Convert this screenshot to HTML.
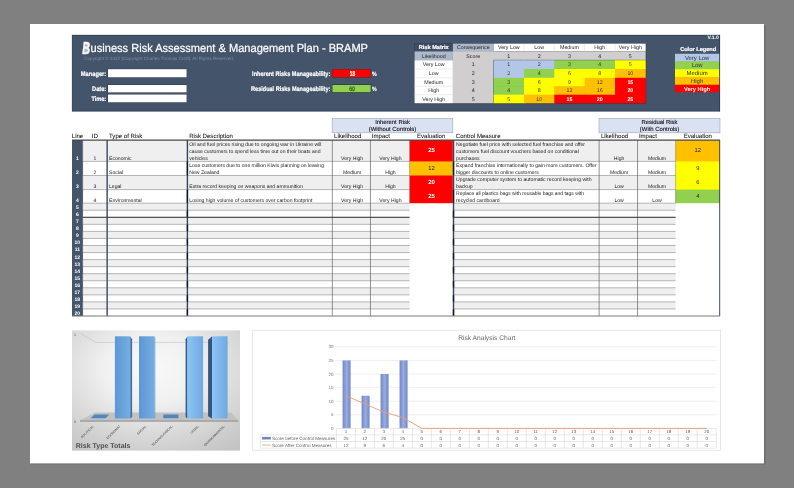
<!DOCTYPE html>
<html lang="en"><head><meta charset="utf-8"><title>Business Risk Assessment &amp; Management Plan - BRAMP</title>
<style>html,body{margin:0;padding:0}
body{width:794px;height:488px;background:#808080;overflow:hidden}
svg{display:block;position:absolute;left:0;top:0;font-family:"Liberation Sans",sans-serif}
text{white-space:pre}</style></head><body>
<svg width="794" height="488" viewBox="0 0 794 488" text-rendering="geometricPrecision">
<g id="sheet">
<rect x="31.00" y="25.00" width="734.50" height="439.50" fill="#5e5e5e" opacity="0.55"/>
<rect x="30.00" y="24.00" width="734.00" height="439.40" fill="#ffffff"/>
<rect x="72.00" y="35.00" width="648.00" height="76.30" fill="#44546A"/>
<line x1="72.00" y1="35.30" x2="720.00" y2="35.30" stroke="#323f55" stroke-width="0.8"/>
<line x1="719.60" y1="35.00" x2="719.60" y2="111.30" stroke="#2c3a52" stroke-width="0.9"/>
<line x1="72.30" y1="35.00" x2="72.30" y2="111.30" stroke="#36445c" stroke-width="0.6"/>
<line x1="72.00" y1="111.00" x2="720.00" y2="111.00" stroke="#323f55" stroke-width="0.8"/>
<polygon points="85.6,43.2 88.6,43.2 87.0,52.6 84.0,52.6" fill="#b4bac5"/>
<rect x="107.60" y="68.80" width="79.40" height="8.90" fill="#2a3446"/>
<rect x="108.00" y="69.20" width="78.60" height="8.10" fill="#ffffff"/>
<rect x="107.60" y="84.60" width="79.40" height="8.20" fill="#2a3446"/>
<rect x="108.00" y="85.00" width="78.60" height="7.40" fill="#ffffff"/>
<rect x="107.60" y="94.10" width="79.40" height="8.60" fill="#2a3446"/>
<rect x="108.00" y="94.50" width="78.60" height="7.80" fill="#ffffff"/>
<rect x="332.00" y="69.10" width="39.10" height="8.40" fill="#5a1a22"/>
<rect x="332.40" y="69.50" width="38.30" height="7.60" fill="#FF0000"/>
<rect x="332.00" y="84.60" width="39.10" height="8.00" fill="#1f2f22"/>
<rect x="332.40" y="85.00" width="38.30" height="7.20" fill="#92D050"/>
<rect x="414.00" y="43.30" width="232.20" height="60.50" fill="#2a3446"/>
<rect x="414.50" y="43.60" width="38.40" height="8.00" fill="#3f4e66"/>
<rect x="452.90" y="43.60" width="40.70" height="7.80" fill="#ADB9CA"/>
<rect x="493.60" y="43.60" width="152.10" height="7.80" fill="#ffffff"/>
<line x1="524.00" y1="44.10" x2="524.00" y2="51.40" stroke="#d8d8d8" stroke-width="0.5"/>
<line x1="554.30" y1="44.10" x2="554.30" y2="51.40" stroke="#d8d8d8" stroke-width="0.5"/>
<line x1="584.60" y1="44.10" x2="584.60" y2="51.40" stroke="#d8d8d8" stroke-width="0.5"/>
<line x1="615.00" y1="44.10" x2="615.00" y2="51.40" stroke="#d8d8d8" stroke-width="0.5"/>
<rect x="414.50" y="51.40" width="38.40" height="8.80" fill="#ADB9CA"/>
<rect x="452.90" y="51.40" width="192.80" height="8.80" fill="#D0CECE"/>
<rect x="452.90" y="51.40" width="40.70" height="51.90" fill="#D0CECE"/>
<rect x="414.50" y="60.20" width="38.40" height="43.10" fill="#ffffff"/>
<rect x="493.45" y="59.85" width="152.25" height="43.45" fill="#3a4a66"/>
<rect x="493.60" y="60.20" width="31.00" height="9.40" fill="#B4C6E7"/>
<rect x="524.00" y="60.20" width="30.90" height="9.40" fill="#B4C6E7"/>
<rect x="554.30" y="60.20" width="30.90" height="9.40" fill="#92D050"/>
<rect x="584.60" y="60.20" width="31.00" height="9.40" fill="#92D050"/>
<rect x="615.00" y="60.20" width="30.70" height="9.40" fill="#FFFF00"/>
<line x1="414.50" y1="69.00" x2="452.90" y2="69.00" stroke="#d8d8d8" stroke-width="0.5"/>
<rect x="493.60" y="69.00" width="31.00" height="9.40" fill="#B4C6E7"/>
<rect x="524.00" y="69.00" width="30.90" height="9.40" fill="#92D050"/>
<rect x="554.30" y="69.00" width="30.90" height="9.40" fill="#FFFF00"/>
<rect x="584.60" y="69.00" width="31.00" height="9.40" fill="#FFFF00"/>
<rect x="615.00" y="69.00" width="30.70" height="9.40" fill="#FFC000"/>
<line x1="414.50" y1="77.80" x2="452.90" y2="77.80" stroke="#d8d8d8" stroke-width="0.5"/>
<rect x="493.60" y="77.80" width="31.00" height="9.10" fill="#92D050"/>
<rect x="524.00" y="77.80" width="30.90" height="9.10" fill="#FFFF00"/>
<rect x="554.30" y="77.80" width="30.90" height="9.10" fill="#FFFF00"/>
<rect x="584.60" y="77.80" width="31.00" height="9.10" fill="#FFC000"/>
<rect x="615.00" y="77.80" width="30.70" height="9.10" fill="#FF0000"/>
<line x1="414.50" y1="86.30" x2="452.90" y2="86.30" stroke="#d8d8d8" stroke-width="0.5"/>
<rect x="493.60" y="86.30" width="31.00" height="9.00" fill="#92D050"/>
<rect x="524.00" y="86.30" width="30.90" height="9.00" fill="#FFFF00"/>
<rect x="554.30" y="86.30" width="30.90" height="9.00" fill="#FFC000"/>
<rect x="584.60" y="86.30" width="31.00" height="9.00" fill="#FFC000"/>
<rect x="615.00" y="86.30" width="30.70" height="9.00" fill="#FF0000"/>
<line x1="414.50" y1="94.70" x2="452.90" y2="94.70" stroke="#d8d8d8" stroke-width="0.5"/>
<rect x="493.60" y="94.70" width="31.00" height="8.60" fill="#FFFF00"/>
<rect x="524.00" y="94.70" width="30.90" height="8.60" fill="#FFC000"/>
<rect x="554.30" y="94.70" width="30.90" height="8.60" fill="#FF0000"/>
<rect x="584.60" y="94.70" width="31.00" height="8.60" fill="#FF0000"/>
<rect x="615.00" y="94.70" width="30.70" height="8.60" fill="#FF0000"/>
<rect x="675.00" y="53.80" width="44.20" height="8.10" fill="#B4C6E7"/>
<rect x="675.00" y="61.30" width="44.20" height="8.50" fill="#92D050"/>
<rect x="675.00" y="69.20" width="44.20" height="8.30" fill="#FFFF00"/>
<rect x="675.00" y="76.90" width="44.20" height="8.40" fill="#FFC000"/>
<rect x="675.00" y="84.70" width="44.20" height="7.60" fill="#FF0000"/>
<rect x="332.20" y="118.60" width="120.60" height="14.20" fill="#D9E1F2" stroke="#9aa3b8" stroke-width="0.6"/>
<rect x="599.00" y="118.60" width="121.00" height="14.20" fill="#D9E1F2" stroke="#9aa3b8" stroke-width="0.6"/>
<rect x="72.00" y="140.00" width="10.60" height="176.00" fill="#44546A"/>
<rect x="82.60" y="140.00" width="327.00" height="21.40" fill="#EFEFEF"/>
<rect x="452.80" y="140.00" width="222.80" height="21.40" fill="#EFEFEF"/>
<rect x="409.60" y="140.00" width="43.20" height="22.00" fill="#FF0000"/>
<rect x="675.60" y="140.00" width="44.40" height="22.00" fill="#FFC000"/>
<rect x="409.60" y="161.40" width="43.20" height="14.70" fill="#FFC000"/>
<rect x="675.60" y="161.40" width="44.40" height="14.70" fill="#FFFF00"/>
<rect x="82.60" y="175.50" width="327.00" height="14.10" fill="#EFEFEF"/>
<rect x="452.80" y="175.50" width="222.80" height="14.10" fill="#EFEFEF"/>
<rect x="409.60" y="175.50" width="43.20" height="14.70" fill="#FF0000"/>
<rect x="675.60" y="175.50" width="44.40" height="14.70" fill="#FFFF00"/>
<rect x="409.60" y="189.60" width="43.20" height="13.60" fill="#FF0000"/>
<rect x="675.60" y="189.60" width="44.40" height="13.60" fill="#92D050"/>
<rect x="82.60" y="203.20" width="327.00" height="7.05" fill="#EFEFEF"/>
<rect x="452.80" y="203.20" width="222.80" height="7.05" fill="#EFEFEF"/>
<rect x="82.60" y="217.30" width="327.00" height="7.05" fill="#EFEFEF"/>
<rect x="452.80" y="217.30" width="222.80" height="7.05" fill="#EFEFEF"/>
<rect x="82.60" y="231.40" width="327.00" height="7.05" fill="#EFEFEF"/>
<rect x="452.80" y="231.40" width="222.80" height="7.05" fill="#EFEFEF"/>
<rect x="82.60" y="245.50" width="327.00" height="7.05" fill="#EFEFEF"/>
<rect x="452.80" y="245.50" width="222.80" height="7.05" fill="#EFEFEF"/>
<rect x="82.60" y="259.60" width="327.00" height="7.05" fill="#EFEFEF"/>
<rect x="452.80" y="259.60" width="222.80" height="7.05" fill="#EFEFEF"/>
<rect x="82.60" y="273.70" width="327.00" height="7.05" fill="#EFEFEF"/>
<rect x="452.80" y="273.70" width="222.80" height="7.05" fill="#EFEFEF"/>
<rect x="82.60" y="287.80" width="327.00" height="7.05" fill="#EFEFEF"/>
<rect x="452.80" y="287.80" width="222.80" height="7.05" fill="#EFEFEF"/>
<rect x="82.60" y="301.90" width="327.00" height="7.05" fill="#EFEFEF"/>
<rect x="452.80" y="301.90" width="222.80" height="7.05" fill="#EFEFEF"/>
<line x1="82.60" y1="161.40" x2="409.60" y2="161.40" stroke="#929292" stroke-width="0.65"/>
<line x1="452.80" y1="161.40" x2="675.60" y2="161.40" stroke="#929292" stroke-width="0.65"/>
<line x1="82.60" y1="175.50" x2="409.60" y2="175.50" stroke="#929292" stroke-width="0.65"/>
<line x1="452.80" y1="175.50" x2="675.60" y2="175.50" stroke="#929292" stroke-width="0.65"/>
<line x1="82.60" y1="189.60" x2="409.60" y2="189.60" stroke="#929292" stroke-width="0.65"/>
<line x1="452.80" y1="189.60" x2="675.60" y2="189.60" stroke="#929292" stroke-width="0.65"/>
<line x1="82.60" y1="203.20" x2="409.60" y2="203.20" stroke="#929292" stroke-width="0.65"/>
<line x1="452.80" y1="203.20" x2="675.60" y2="203.20" stroke="#929292" stroke-width="0.65"/>
<line x1="82.60" y1="210.25" x2="409.60" y2="210.25" stroke="#929292" stroke-width="0.65"/>
<line x1="452.80" y1="210.25" x2="675.60" y2="210.25" stroke="#929292" stroke-width="0.65"/>
<line x1="82.60" y1="217.30" x2="409.60" y2="217.30" stroke="#929292" stroke-width="0.65"/>
<line x1="452.80" y1="217.30" x2="675.60" y2="217.30" stroke="#929292" stroke-width="0.65"/>
<line x1="82.60" y1="224.35" x2="409.60" y2="224.35" stroke="#929292" stroke-width="0.65"/>
<line x1="452.80" y1="224.35" x2="675.60" y2="224.35" stroke="#929292" stroke-width="0.65"/>
<line x1="82.60" y1="231.40" x2="409.60" y2="231.40" stroke="#929292" stroke-width="0.65"/>
<line x1="452.80" y1="231.40" x2="675.60" y2="231.40" stroke="#929292" stroke-width="0.65"/>
<line x1="82.60" y1="238.45" x2="409.60" y2="238.45" stroke="#929292" stroke-width="0.65"/>
<line x1="452.80" y1="238.45" x2="675.60" y2="238.45" stroke="#929292" stroke-width="0.65"/>
<line x1="82.60" y1="245.50" x2="409.60" y2="245.50" stroke="#929292" stroke-width="0.65"/>
<line x1="452.80" y1="245.50" x2="675.60" y2="245.50" stroke="#929292" stroke-width="0.65"/>
<line x1="82.60" y1="252.55" x2="409.60" y2="252.55" stroke="#929292" stroke-width="0.65"/>
<line x1="452.80" y1="252.55" x2="675.60" y2="252.55" stroke="#929292" stroke-width="0.65"/>
<line x1="82.60" y1="259.60" x2="409.60" y2="259.60" stroke="#929292" stroke-width="0.65"/>
<line x1="452.80" y1="259.60" x2="675.60" y2="259.60" stroke="#929292" stroke-width="0.65"/>
<line x1="82.60" y1="266.65" x2="409.60" y2="266.65" stroke="#929292" stroke-width="0.65"/>
<line x1="452.80" y1="266.65" x2="675.60" y2="266.65" stroke="#929292" stroke-width="0.65"/>
<line x1="82.60" y1="273.70" x2="409.60" y2="273.70" stroke="#929292" stroke-width="0.65"/>
<line x1="452.80" y1="273.70" x2="675.60" y2="273.70" stroke="#929292" stroke-width="0.65"/>
<line x1="82.60" y1="280.75" x2="409.60" y2="280.75" stroke="#929292" stroke-width="0.65"/>
<line x1="452.80" y1="280.75" x2="675.60" y2="280.75" stroke="#929292" stroke-width="0.65"/>
<line x1="82.60" y1="287.80" x2="409.60" y2="287.80" stroke="#929292" stroke-width="0.65"/>
<line x1="452.80" y1="287.80" x2="675.60" y2="287.80" stroke="#929292" stroke-width="0.65"/>
<line x1="82.60" y1="294.85" x2="409.60" y2="294.85" stroke="#929292" stroke-width="0.65"/>
<line x1="452.80" y1="294.85" x2="675.60" y2="294.85" stroke="#929292" stroke-width="0.65"/>
<line x1="82.60" y1="301.90" x2="409.60" y2="301.90" stroke="#929292" stroke-width="0.65"/>
<line x1="452.80" y1="301.90" x2="675.60" y2="301.90" stroke="#929292" stroke-width="0.65"/>
<line x1="82.60" y1="308.95" x2="409.60" y2="308.95" stroke="#929292" stroke-width="0.65"/>
<line x1="452.80" y1="308.95" x2="675.60" y2="308.95" stroke="#929292" stroke-width="0.65"/>
<line x1="332.35" y1="140.00" x2="332.35" y2="316.00" stroke="#5a5a5a" stroke-width="0.65"/>
<line x1="370.45" y1="140.00" x2="370.45" y2="316.00" stroke="#5a5a5a" stroke-width="0.65"/>
<line x1="599.15" y1="140.00" x2="599.15" y2="316.00" stroke="#5a5a5a" stroke-width="0.65"/>
<line x1="637.55" y1="140.00" x2="637.55" y2="316.00" stroke="#5a5a5a" stroke-width="0.65"/>
<line x1="409.60" y1="140.00" x2="409.60" y2="203.20" stroke="#777" stroke-width="0.5"/>
<line x1="675.60" y1="140.00" x2="675.60" y2="203.20" stroke="#777" stroke-width="0.5"/>
<line x1="82.60" y1="140.00" x2="82.60" y2="316.00" stroke="#2d3a50" stroke-width="0.6"/>
<line x1="107.15" y1="140.00" x2="107.15" y2="316.00" stroke="#4a526a" stroke-width="1.5"/>
<line x1="187.40" y1="140.00" x2="187.40" y2="316.00" stroke="#3a4258" stroke-width="1.4"/>
<line x1="187.40" y1="161.80" x2="187.40" y2="175.10" stroke="#10142a" stroke-width="1.4"/>
<line x1="187.40" y1="190.00" x2="187.40" y2="202.80" stroke="#10142a" stroke-width="1.4"/>
<line x1="187.40" y1="210.65" x2="187.40" y2="216.90" stroke="#10142a" stroke-width="1.4"/>
<line x1="187.40" y1="224.75" x2="187.40" y2="231.00" stroke="#10142a" stroke-width="1.4"/>
<line x1="187.40" y1="238.85" x2="187.40" y2="245.10" stroke="#10142a" stroke-width="1.4"/>
<line x1="187.40" y1="252.95" x2="187.40" y2="259.20" stroke="#10142a" stroke-width="1.4"/>
<line x1="187.40" y1="267.05" x2="187.40" y2="273.30" stroke="#10142a" stroke-width="1.4"/>
<line x1="187.40" y1="281.15" x2="187.40" y2="287.40" stroke="#10142a" stroke-width="1.4"/>
<line x1="187.40" y1="295.25" x2="187.40" y2="301.50" stroke="#10142a" stroke-width="1.4"/>
<line x1="187.40" y1="309.35" x2="187.40" y2="315.60" stroke="#10142a" stroke-width="1.4"/>
<line x1="453.50" y1="140.00" x2="453.50" y2="316.00" stroke="#3a4258" stroke-width="1.4"/>
<line x1="453.50" y1="161.80" x2="453.50" y2="175.10" stroke="#10142a" stroke-width="1.4"/>
<line x1="453.50" y1="190.00" x2="453.50" y2="202.80" stroke="#10142a" stroke-width="1.4"/>
<line x1="453.50" y1="210.65" x2="453.50" y2="216.90" stroke="#10142a" stroke-width="1.4"/>
<line x1="453.50" y1="224.75" x2="453.50" y2="231.00" stroke="#10142a" stroke-width="1.4"/>
<line x1="453.50" y1="238.85" x2="453.50" y2="245.10" stroke="#10142a" stroke-width="1.4"/>
<line x1="453.50" y1="252.95" x2="453.50" y2="259.20" stroke="#10142a" stroke-width="1.4"/>
<line x1="453.50" y1="267.05" x2="453.50" y2="273.30" stroke="#10142a" stroke-width="1.4"/>
<line x1="453.50" y1="281.15" x2="453.50" y2="287.40" stroke="#10142a" stroke-width="1.4"/>
<line x1="453.50" y1="295.25" x2="453.50" y2="301.50" stroke="#10142a" stroke-width="1.4"/>
<line x1="453.50" y1="309.35" x2="453.50" y2="315.60" stroke="#10142a" stroke-width="1.4"/>
<line x1="719.70" y1="140.00" x2="719.70" y2="316.00" stroke="#2b3550" stroke-width="0.9"/>
<line x1="82.60" y1="217.30" x2="409.60" y2="217.30" stroke="#2e2e2e" stroke-width="0.9"/>
<line x1="452.80" y1="217.30" x2="675.60" y2="217.30" stroke="#2e2e2e" stroke-width="0.9"/>
<line x1="72.00" y1="140.05" x2="720.00" y2="140.05" stroke="#4a4a4a" stroke-width="1.3"/>
<line x1="72.00" y1="316.00" x2="720.00" y2="316.00" stroke="#777" stroke-width="1.0"/>
</g>
<g id="labels">
<text x="82.90" y="53.90" font-size="17.4" font-weight="bold" fill="#9aa1ae" font-style="italic" textLength="7.6" lengthAdjust="spacingAndGlyphs">B</text>
<text x="82.30" y="53.70" font-size="17.4" font-weight="bold" fill="#f6f6f6" font-style="italic" stroke="#f0f0f0" stroke-width="0.5" textLength="7.6" lengthAdjust="spacingAndGlyphs">B</text>
<text x="90.60" y="51.90" font-size="11.7" fill="#fff" textLength="277.4" lengthAdjust="spacingAndGlyphs" stroke="#fff" stroke-width="0.22">usiness Risk Assessment &amp; Management Plan - BRAMP</text>
<text x="84.20" y="59.60" font-size="4.62" fill="#808b9d">Copyright © 2022 [Copyright Charles Thomas Croft]. All Rights Reserved.</text>
<text x="80.80" y="75.55" font-size="6.6" font-weight="bold" fill="#fff" textLength="25.4" lengthAdjust="spacingAndGlyphs" stroke="#fff" stroke-width="0.2">Manager:</text>
<text x="92.10" y="91.00" font-size="6.6" font-weight="bold" fill="#fff" textLength="14.1" lengthAdjust="spacingAndGlyphs" stroke="#fff" stroke-width="0.2">Date:</text>
<text x="91.40" y="100.70" font-size="6.6" font-weight="bold" fill="#fff" textLength="14.8" lengthAdjust="spacingAndGlyphs" stroke="#fff" stroke-width="0.2">Time:</text>
<text x="252.10" y="75.60" font-size="6.6" font-weight="bold" fill="#fff" textLength="78.2" lengthAdjust="spacingAndGlyphs" stroke="#fff" stroke-width="0.2">Inherent Risks Manageability:</text>
<text x="349.70" y="75.85" font-size="7.2" font-weight="bold" fill="#fff" stroke="#fff" stroke-width="0.2" textLength="5.5" lengthAdjust="spacingAndGlyphs">18</text>
<text x="372.10" y="75.50" font-size="6.2" font-weight="bold" fill="#fff" textLength="4.7" lengthAdjust="spacingAndGlyphs" stroke="#fff" stroke-width="0.15">%</text>
<text x="251.10" y="90.90" font-size="6.6" font-weight="bold" fill="#fff" textLength="79.2" lengthAdjust="spacingAndGlyphs" stroke="#fff" stroke-width="0.2">Residual Risks Manageability:</text>
<text x="349.20" y="90.85" font-size="6.3" fill="#2a4d14" stroke="#2a4d14" stroke-width="0.15" textLength="5.8" lengthAdjust="spacingAndGlyphs">69</text>
<text x="372.10" y="90.80" font-size="6.2" font-weight="bold" fill="#fff" textLength="4.7" lengthAdjust="spacingAndGlyphs" stroke="#fff" stroke-width="0.15">%</text>
<text x="718.80" y="38.90" font-size="5.0" text-anchor="end" font-weight="bold" fill="#fff">V.1.0</text>
<text x="433.70" y="49.49" font-size="5.6" text-anchor="middle" font-weight="bold" fill="#fff" stroke="#fff" stroke-width="0.2">Risk Matrix</text>
<text x="473.25" y="49.38" font-size="5.3" text-anchor="middle" fill="#1f1f1f">Consequence</text>
<text x="508.80" y="49.38" font-size="5.3" text-anchor="middle" fill="#1f1f1f">Very Low</text>
<text x="539.15" y="49.38" font-size="5.3" text-anchor="middle" fill="#1f1f1f">Low</text>
<text x="569.45" y="49.38" font-size="5.3" text-anchor="middle" fill="#1f1f1f">Medium</text>
<text x="599.80" y="49.38" font-size="5.3" text-anchor="middle" fill="#1f1f1f">High</text>
<text x="630.35" y="49.38" font-size="5.3" text-anchor="middle" fill="#1f1f1f">Very High</text>
<text x="433.70" y="57.68" font-size="5.3" text-anchor="middle" fill="#1f1f1f">Likelihood</text>
<text x="473.25" y="57.68" font-size="5.3" text-anchor="middle" fill="#1f1f1f">Score</text>
<text x="508.80" y="57.68" font-size="5.3" text-anchor="middle" fill="#1f1f1f">1</text>
<text x="539.15" y="57.68" font-size="5.3" text-anchor="middle" fill="#1f1f1f">2</text>
<text x="569.45" y="57.68" font-size="5.3" text-anchor="middle" fill="#1f1f1f">3</text>
<text x="599.80" y="57.68" font-size="5.3" text-anchor="middle" fill="#1f1f1f">4</text>
<text x="630.35" y="57.68" font-size="5.3" text-anchor="middle" fill="#1f1f1f">5</text>
<text x="433.70" y="66.48" font-size="5.3" text-anchor="middle" fill="#1f1f1f">Very Low</text>
<text x="473.25" y="66.48" font-size="5.3" text-anchor="middle" fill="#1f1f1f">1</text>
<text x="508.80" y="66.48" font-size="5.3" text-anchor="middle" fill="#3a3a1a">1</text>
<text x="539.15" y="66.48" font-size="5.3" text-anchor="middle" fill="#3a3a1a">2</text>
<text x="569.45" y="66.48" font-size="5.3" text-anchor="middle" fill="#3a3a1a">3</text>
<text x="599.80" y="66.48" font-size="5.3" text-anchor="middle" fill="#3a3a1a">4</text>
<text x="630.35" y="66.48" font-size="5.3" text-anchor="middle" fill="#3a3a1a">5</text>
<text x="433.70" y="75.28" font-size="5.3" text-anchor="middle" fill="#1f1f1f">Low</text>
<text x="473.25" y="75.28" font-size="5.3" text-anchor="middle" fill="#1f1f1f">2</text>
<text x="508.80" y="75.28" font-size="5.3" text-anchor="middle" fill="#3a3a1a">2</text>
<text x="539.15" y="75.28" font-size="5.3" text-anchor="middle" fill="#3a3a1a">4</text>
<text x="569.45" y="75.28" font-size="5.3" text-anchor="middle" fill="#3a3a1a">6</text>
<text x="599.80" y="75.28" font-size="5.3" text-anchor="middle" fill="#3a3a1a">8</text>
<text x="630.35" y="75.28" font-size="5.3" text-anchor="middle" fill="#3a3a1a">10</text>
<text x="433.70" y="83.93" font-size="5.3" text-anchor="middle" fill="#1f1f1f">Medium</text>
<text x="473.25" y="83.93" font-size="5.3" text-anchor="middle" fill="#1f1f1f">3</text>
<text x="508.80" y="83.93" font-size="5.3" text-anchor="middle" fill="#3a3a1a">3</text>
<text x="539.15" y="83.93" font-size="5.3" text-anchor="middle" fill="#3a3a1a">6</text>
<text x="569.45" y="83.93" font-size="5.3" text-anchor="middle" fill="#3a3a1a">9</text>
<text x="599.80" y="83.93" font-size="5.3" text-anchor="middle" fill="#3a3a1a">12</text>
<text x="630.35" y="83.93" font-size="5.3" text-anchor="middle" font-weight="bold" fill="#fff">15</text>
<text x="433.70" y="92.38" font-size="5.3" text-anchor="middle" fill="#1f1f1f">High</text>
<text x="473.25" y="92.38" font-size="5.3" text-anchor="middle" fill="#1f1f1f">4</text>
<text x="508.80" y="92.38" font-size="5.3" text-anchor="middle" fill="#3a3a1a">4</text>
<text x="539.15" y="92.38" font-size="5.3" text-anchor="middle" fill="#3a3a1a">8</text>
<text x="569.45" y="92.38" font-size="5.3" text-anchor="middle" fill="#3a3a1a">12</text>
<text x="599.80" y="92.38" font-size="5.3" text-anchor="middle" fill="#3a3a1a">16</text>
<text x="630.35" y="92.38" font-size="5.3" text-anchor="middle" font-weight="bold" fill="#fff">20</text>
<text x="433.70" y="100.88" font-size="5.3" text-anchor="middle" fill="#1f1f1f">Very High</text>
<text x="473.25" y="100.88" font-size="5.3" text-anchor="middle" fill="#1f1f1f">5</text>
<text x="508.80" y="100.88" font-size="5.3" text-anchor="middle" fill="#3a3a1a">5</text>
<text x="539.15" y="100.88" font-size="5.3" text-anchor="middle" fill="#3a3a1a">10</text>
<text x="569.45" y="100.88" font-size="5.3" text-anchor="middle" font-weight="bold" fill="#fff">15</text>
<text x="599.80" y="100.88" font-size="5.3" text-anchor="middle" font-weight="bold" fill="#fff">20</text>
<text x="630.35" y="100.88" font-size="5.3" text-anchor="middle" font-weight="bold" fill="#fff">25</text>
<text x="716.20" y="51.40" font-size="5.6" text-anchor="end" font-weight="bold" fill="#fff" stroke="#fff" stroke-width="0.2">Color Legend</text>
<text x="697.10" y="59.66" font-size="5.95" text-anchor="middle" fill="#2c3340">Very Low</text>
<text x="697.10" y="67.36" font-size="5.95" text-anchor="middle" fill="#2c3340">Low</text>
<text x="697.10" y="75.16" font-size="5.95" text-anchor="middle" fill="#2c3340">Medium</text>
<text x="697.10" y="82.91" font-size="5.95" text-anchor="middle" fill="#2c3340">High</text>
<text x="697.10" y="90.52" font-size="5.7" text-anchor="middle" font-weight="bold" fill="#fff">Very High</text>
<text x="392.50" y="124.00" font-size="5.9" text-anchor="middle" fill="#111" stroke="#111" stroke-width="0.12">Inherent Risk</text>
<text x="392.50" y="131.30" font-size="5.9" text-anchor="middle" fill="#111" stroke="#111" stroke-width="0.12">(Without Controls)</text>
<text x="659.50" y="124.00" font-size="5.9" text-anchor="middle" fill="#111" stroke="#111" stroke-width="0.12">Residual Risk</text>
<text x="659.50" y="131.30" font-size="5.9" text-anchor="middle" fill="#111" stroke="#111" stroke-width="0.12">(With Controls)</text>
<text x="71.80" y="138.25" font-size="6.05" fill="#111" stroke="#111" stroke-width="0.05">Line</text>
<text x="94.80" y="138.25" font-size="6.05" text-anchor="middle" fill="#111" stroke="#111" stroke-width="0.05">ID</text>
<text x="109.00" y="138.25" font-size="6.05" fill="#111" stroke="#111" stroke-width="0.05">Type of Risk</text>
<text x="189.20" y="138.25" font-size="6.05" fill="#111" stroke="#111" stroke-width="0.05">Risk Description</text>
<text x="334.10" y="138.25" font-size="6.05" fill="#111" stroke="#111" stroke-width="0.05">Likelihood</text>
<text x="371.80" y="138.25" font-size="6.05" fill="#111" stroke="#111" stroke-width="0.05">Impact</text>
<text x="431.20" y="138.25" font-size="6.05" text-anchor="middle" fill="#111" stroke="#111" stroke-width="0.05">Evaluation</text>
<text x="455.80" y="138.25" font-size="6.05" fill="#111" stroke="#111" stroke-width="0.05">Control Measure</text>
<text x="600.90" y="138.25" font-size="6.05" fill="#111" stroke="#111" stroke-width="0.05">Likelihood</text>
<text x="638.90" y="138.25" font-size="6.05" fill="#111" stroke="#111" stroke-width="0.05">Impact</text>
<text x="697.80" y="138.25" font-size="6.05" text-anchor="middle" fill="#111" stroke="#111" stroke-width="0.05">Evaluation</text>
<text x="77.30" y="159.90" font-size="5.0" text-anchor="middle" font-weight="bold" fill="#fff">1</text>
<text x="94.80" y="159.90" font-size="5.12" text-anchor="middle" fill="#1c1c1c">1</text>
<text x="109.00" y="159.90" font-size="5.12" fill="#1c1c1c">Economic</text>
<text x="189.30" y="145.60" font-size="5.12" fill="#1c1c1c" textLength="132.2" lengthAdjust="spacingAndGlyphs">Oil and fuel prices rising due to ongoing war in Ukraine will</text>
<text x="189.30" y="152.75" font-size="5.12" fill="#1c1c1c" textLength="131.2" lengthAdjust="spacingAndGlyphs">cause customers to spend less time out on their boats and</text>
<text x="189.30" y="159.90" font-size="5.12" fill="#1c1c1c">vehicles</text>
<text x="352.15" y="159.90" font-size="5.12" text-anchor="middle" fill="#1c1c1c">Very High</text>
<text x="390.45" y="159.90" font-size="5.12" text-anchor="middle" fill="#1c1c1c">Very High</text>
<text x="431.50" y="152.23" font-size="6.0" text-anchor="middle" font-weight="bold" fill="#fff">25</text>
<text x="456.10" y="145.60" font-size="5.12" fill="#1c1c1c" textLength="129.0" lengthAdjust="spacingAndGlyphs">Negotiate fuel price with selected fuel franchise and offer</text>
<text x="456.10" y="152.75" font-size="5.12" fill="#1c1c1c" textLength="122.7" lengthAdjust="spacingAndGlyphs">customers fuel discount vouchers based on conditional</text>
<text x="456.10" y="159.90" font-size="5.12" fill="#1c1c1c">purchases</text>
<text x="619.10" y="159.90" font-size="5.12" text-anchor="middle" fill="#1c1c1c">High</text>
<text x="657.00" y="159.90" font-size="5.12" text-anchor="middle" fill="#1c1c1c">Medium</text>
<text x="697.80" y="152.16" font-size="5.8" text-anchor="middle" fill="#1a1a1a">12</text>
<text x="77.30" y="174.10" font-size="5.0" text-anchor="middle" font-weight="bold" fill="#fff">2</text>
<text x="94.80" y="174.10" font-size="5.12" text-anchor="middle" fill="#1c1c1c">2</text>
<text x="109.00" y="174.10" font-size="5.12" fill="#1c1c1c">Social</text>
<text x="189.30" y="166.95" font-size="5.12" fill="#1c1c1c" textLength="134.7" lengthAdjust="spacingAndGlyphs">Lose customers due to one million Kiwis planning on leaving</text>
<text x="189.30" y="174.10" font-size="5.12" fill="#1c1c1c">New Zealand</text>
<text x="352.15" y="174.10" font-size="5.12" text-anchor="middle" fill="#1c1c1c">Medium</text>
<text x="390.45" y="174.10" font-size="5.12" text-anchor="middle" fill="#1c1c1c">High</text>
<text x="431.50" y="169.91" font-size="5.8" text-anchor="middle" fill="#1a1a1a">12</text>
<text x="456.10" y="166.95" font-size="5.12" fill="#1c1c1c" textLength="140.5" lengthAdjust="spacingAndGlyphs">Expand franchise internationally to gain more customers. Offer</text>
<text x="456.10" y="174.10" font-size="5.12" fill="#1c1c1c" textLength="82.6" lengthAdjust="spacingAndGlyphs">bigger discounts to online customers</text>
<text x="619.10" y="174.10" font-size="5.12" text-anchor="middle" fill="#1c1c1c">Medium</text>
<text x="657.00" y="174.10" font-size="5.12" text-anchor="middle" fill="#1c1c1c">Medium</text>
<text x="697.80" y="169.91" font-size="5.8" text-anchor="middle" fill="#1a1a1a">9</text>
<text x="77.30" y="188.45" font-size="5.0" text-anchor="middle" font-weight="bold" fill="#fff">3</text>
<text x="94.80" y="188.45" font-size="5.12" text-anchor="middle" fill="#1c1c1c">3</text>
<text x="109.00" y="188.45" font-size="5.12" fill="#1c1c1c">Legal</text>
<text x="189.30" y="188.45" font-size="5.12" fill="#1c1c1c" textLength="113.7" lengthAdjust="spacingAndGlyphs">Extra record keeping on weapons and ammunition</text>
<text x="352.15" y="188.45" font-size="5.12" text-anchor="middle" fill="#1c1c1c">Very High</text>
<text x="390.45" y="188.45" font-size="5.12" text-anchor="middle" fill="#1c1c1c">High</text>
<text x="431.50" y="184.08" font-size="6.0" text-anchor="middle" font-weight="bold" fill="#fff">20</text>
<text x="456.10" y="181.30" font-size="5.12" fill="#1c1c1c" textLength="135.5" lengthAdjust="spacingAndGlyphs">Upgrade computer system to automatic record keeping with</text>
<text x="456.10" y="188.45" font-size="5.12" fill="#1c1c1c">backup</text>
<text x="619.10" y="188.45" font-size="5.12" text-anchor="middle" fill="#1c1c1c">Low</text>
<text x="657.00" y="188.45" font-size="5.12" text-anchor="middle" fill="#1c1c1c">Medium</text>
<text x="697.80" y="184.01" font-size="5.8" text-anchor="middle" fill="#1a1a1a">6</text>
<text x="77.30" y="202.20" font-size="5.0" text-anchor="middle" font-weight="bold" fill="#fff">4</text>
<text x="94.80" y="202.20" font-size="5.12" text-anchor="middle" fill="#1c1c1c">4</text>
<text x="109.00" y="202.20" font-size="5.12" fill="#1c1c1c">Environmental</text>
<text x="189.30" y="202.20" font-size="5.12" fill="#1c1c1c" textLength="123.1" lengthAdjust="spacingAndGlyphs">Losing high volume of customers over carbon footprint</text>
<text x="352.15" y="202.20" font-size="5.12" text-anchor="middle" fill="#1c1c1c">Very High</text>
<text x="390.45" y="202.20" font-size="5.12" text-anchor="middle" fill="#1c1c1c">Very High</text>
<text x="431.50" y="197.93" font-size="6.0" text-anchor="middle" font-weight="bold" fill="#fff">25</text>
<text x="456.10" y="195.05" font-size="5.12" fill="#1c1c1c" textLength="127.9" lengthAdjust="spacingAndGlyphs">Replace all plastics bags with reusable bags and tags with</text>
<text x="456.10" y="202.20" font-size="5.12" fill="#1c1c1c">recycled cardboard</text>
<text x="619.10" y="202.20" font-size="5.12" text-anchor="middle" fill="#1c1c1c">Low</text>
<text x="657.00" y="202.20" font-size="5.12" text-anchor="middle" fill="#1c1c1c">Low</text>
<text x="697.80" y="197.86" font-size="5.8" text-anchor="middle" fill="#1a1a1a">4</text>
<text x="77.30" y="209.15" font-size="5.0" text-anchor="middle" font-weight="bold" fill="#fff">5</text>
<text x="77.30" y="216.20" font-size="5.0" text-anchor="middle" font-weight="bold" fill="#fff">6</text>
<text x="77.30" y="223.25" font-size="5.0" text-anchor="middle" font-weight="bold" fill="#fff">7</text>
<text x="77.30" y="230.30" font-size="5.0" text-anchor="middle" font-weight="bold" fill="#fff">8</text>
<text x="77.30" y="237.35" font-size="5.0" text-anchor="middle" font-weight="bold" fill="#fff">9</text>
<text x="77.30" y="244.40" font-size="5.0" text-anchor="middle" font-weight="bold" fill="#fff">10</text>
<text x="77.30" y="251.45" font-size="5.0" text-anchor="middle" font-weight="bold" fill="#fff">11</text>
<text x="77.30" y="258.50" font-size="5.0" text-anchor="middle" font-weight="bold" fill="#fff">12</text>
<text x="77.30" y="265.55" font-size="5.0" text-anchor="middle" font-weight="bold" fill="#fff">13</text>
<text x="77.30" y="272.60" font-size="5.0" text-anchor="middle" font-weight="bold" fill="#fff">14</text>
<text x="77.30" y="279.65" font-size="5.0" text-anchor="middle" font-weight="bold" fill="#fff">15</text>
<text x="77.30" y="286.70" font-size="5.0" text-anchor="middle" font-weight="bold" fill="#fff">16</text>
<text x="77.30" y="293.75" font-size="5.0" text-anchor="middle" font-weight="bold" fill="#fff">17</text>
<text x="77.30" y="300.80" font-size="5.0" text-anchor="middle" font-weight="bold" fill="#fff">18</text>
<text x="77.30" y="307.85" font-size="5.0" text-anchor="middle" font-weight="bold" fill="#fff">19</text>
<text x="77.30" y="314.90" font-size="5.0" text-anchor="middle" font-weight="bold" fill="#fff">20</text>
</g>
<g id="chart-risk-type-totals">
<defs>
<radialGradient id="c1bg" cx="0.47" cy="0.32" r="0.9">
<stop offset="0" stop-color="#f9f9f9"/><stop offset="0.32" stop-color="#f0f0f0"/><stop offset="0.62" stop-color="#d8d8d8"/><stop offset="1" stop-color="#bdbdbd"/></radialGradient>
<linearGradient id="c1a" x1="0" x2="1" y1="0" y2="0"><stop offset="0" stop-color="#5b98d4"/><stop offset="1" stop-color="#76ade2"/></linearGradient>
<linearGradient id="c1b" x1="0" x2="1" y1="0" y2="0"><stop offset="0" stop-color="#8cc4f4"/><stop offset="1" stop-color="#6fa9e0"/></linearGradient>
</defs>
<rect x="72.0" y="330.4" width="168.0" height="120.20000000000005" fill="url(#c1bg)"/>
<polyline points="80.6,333.6 95.9,342.4 229,342.4" fill="none" stroke="#bdbdbd" stroke-width="0.55"/>
<polygon points="95,412.5 231,412.5 238.3,420.6 80,420.6" fill="#c2c2c2"/>
<polygon points="80,420.3 238.3,420.3 238.3,421.7 80,421.7" fill="#9c9c9c"/>
<polygon points="94.5,414.6 109.3,414.6 105.5,418.2 90.6,418.2" fill="#4e86c0"/>
<polygon points="163.4,414.6 178.4,414.6 178.6,418.2 163.2,418.2" fill="#4e86c0"/>
<polygon points="130.2,336.5 132.1,339.3 132.1,417.0 130.2,418.5" fill="#3a6ea5"/>
<rect x="114.9" y="336.3" width="15.3" height="82.19999999999999" fill="url(#c1a)"/>
<polygon points="154.6,336.5 155.2,338.3 155.2,417.5 154.6,418.5" fill="#4a7fb8"/>
<rect x="139.0" y="336.3" width="15.6" height="82.19999999999999" fill="url(#c1a)"/>
<polygon points="187.5,336.5 185.6,339.3 185.6,417.0 187.5,418.5" fill="#2f5f93"/>
<rect x="187.5" y="336.3" width="15.6" height="82.19999999999999" fill="url(#c1b)"/>
<polygon points="212,336.5 208.1,339.7 208.1,416.3 212,418.5" fill="#35557e"/>
<rect x="212" y="336.3" width="15.6" height="82.19999999999999" fill="url(#c1b)"/>
<text x="75.0" y="335.6" font-size="3.6" fill="#555" text-anchor="middle">1</text>
<text x="75.0" y="422.8" font-size="3.6" fill="#555" text-anchor="middle">0</text>
<text transform="translate(94.1 426.6) rotate(-45)" font-size="3.3" fill="#444" text-anchor="end">POLITICAL</text>
<text transform="translate(120.5 426.6) rotate(-45)" font-size="3.3" fill="#444" text-anchor="end">ECONOMIC</text>
<text transform="translate(146.7 426.6) rotate(-45)" font-size="3.3" fill="#444" text-anchor="end">SOCIAL</text>
<text transform="translate(172.9 426.6) rotate(-45)" font-size="3.3" fill="#444" text-anchor="end">TECHNOLOGICAL</text>
<text transform="translate(199.1 426.6) rotate(-45)" font-size="3.3" fill="#444" text-anchor="end">LEGAL</text>
<text transform="translate(225.1 426.6) rotate(-45)" font-size="3.3" fill="#444" text-anchor="end">ENVIRONMENTAL</text>
<text x="75.8" y="447.6" font-size="7.0" font-weight="bold" fill="#505050">Risk Type Totals</text>
</g>
<g id="chart-risk-analysis">
<defs><linearGradient id="c2b" x1="0" x2="1" y1="0" y2="0"><stop offset="0" stop-color="#6f87c9"/><stop offset="0.5" stop-color="#9aabdc"/><stop offset="1" stop-color="#6f87c9"/></linearGradient></defs>
<rect x="252.3" y="330.2" width="468.10" height="120.00" fill="#ffffff" stroke="#dcdcdc" stroke-width="0.7"/>
<text x="486.8" y="339.6" font-size="6.66" fill="#666" text-anchor="middle">Risk Analysis Chart</text>
<line x1="335.59999999999997" y1="414.80" x2="716.2" y2="414.80" stroke="#e4e4e4" stroke-width="0.6"/>
<line x1="335.59999999999997" y1="401.20" x2="716.2" y2="401.20" stroke="#e4e4e4" stroke-width="0.6"/>
<line x1="335.59999999999997" y1="387.60" x2="716.2" y2="387.60" stroke="#e4e4e4" stroke-width="0.6"/>
<line x1="335.59999999999997" y1="374.00" x2="716.2" y2="374.00" stroke="#e4e4e4" stroke-width="0.6"/>
<line x1="335.59999999999997" y1="360.40" x2="716.2" y2="360.40" stroke="#e4e4e4" stroke-width="0.6"/>
<line x1="335.59999999999997" y1="346.80" x2="716.2" y2="346.80" stroke="#e4e4e4" stroke-width="0.6"/>
<text x="333.6" y="430.00" font-size="4.5" fill="#777" text-anchor="end">0</text>
<text x="333.6" y="416.40" font-size="4.5" fill="#777" text-anchor="end">5</text>
<text x="333.6" y="402.80" font-size="4.5" fill="#777" text-anchor="end">10</text>
<text x="333.6" y="389.20" font-size="4.5" fill="#777" text-anchor="end">15</text>
<text x="333.6" y="375.60" font-size="4.5" fill="#777" text-anchor="end">20</text>
<text x="333.6" y="362.00" font-size="4.5" fill="#777" text-anchor="end">25</text>
<text x="333.6" y="348.40" font-size="4.5" fill="#777" text-anchor="end">30</text>
<rect x="342.59" y="360.40" width="8.0" height="68.00" fill="url(#c2b)"/>
<rect x="361.58" y="395.76" width="8.0" height="32.64" fill="url(#c2b)"/>
<rect x="380.57" y="374.00" width="8.0" height="54.40" fill="url(#c2b)"/>
<rect x="399.56" y="360.40" width="8.0" height="68.00" fill="url(#c2b)"/>
<line x1="336.4" y1="428.4" x2="716.2" y2="428.4" stroke="#d6d6d6" stroke-width="0.6"/>
<line x1="260.2" y1="434.8" x2="716.2" y2="434.8" stroke="#d6d6d6" stroke-width="0.6"/>
<line x1="260.2" y1="441.5" x2="716.2" y2="441.5" stroke="#d6d6d6" stroke-width="0.6"/>
<line x1="260.2" y1="448.1" x2="716.2" y2="448.1" stroke="#d6d6d6" stroke-width="0.6"/>
<line x1="260.2" y1="434.8" x2="260.2" y2="448.1" stroke="#d6d6d6" stroke-width="0.6"/>
<line x1="336.40" y1="428.4" x2="336.40" y2="448.1" stroke="#d6d6d6" stroke-width="0.6"/>
<line x1="355.39" y1="428.4" x2="355.39" y2="448.1" stroke="#d6d6d6" stroke-width="0.6"/>
<line x1="374.38" y1="428.4" x2="374.38" y2="448.1" stroke="#d6d6d6" stroke-width="0.6"/>
<line x1="393.37" y1="428.4" x2="393.37" y2="448.1" stroke="#d6d6d6" stroke-width="0.6"/>
<line x1="412.36" y1="428.4" x2="412.36" y2="448.1" stroke="#d6d6d6" stroke-width="0.6"/>
<line x1="431.35" y1="428.4" x2="431.35" y2="448.1" stroke="#d6d6d6" stroke-width="0.6"/>
<line x1="450.34" y1="428.4" x2="450.34" y2="448.1" stroke="#d6d6d6" stroke-width="0.6"/>
<line x1="469.33" y1="428.4" x2="469.33" y2="448.1" stroke="#d6d6d6" stroke-width="0.6"/>
<line x1="488.32" y1="428.4" x2="488.32" y2="448.1" stroke="#d6d6d6" stroke-width="0.6"/>
<line x1="507.31" y1="428.4" x2="507.31" y2="448.1" stroke="#d6d6d6" stroke-width="0.6"/>
<line x1="526.30" y1="428.4" x2="526.30" y2="448.1" stroke="#d6d6d6" stroke-width="0.6"/>
<line x1="545.29" y1="428.4" x2="545.29" y2="448.1" stroke="#d6d6d6" stroke-width="0.6"/>
<line x1="564.28" y1="428.4" x2="564.28" y2="448.1" stroke="#d6d6d6" stroke-width="0.6"/>
<line x1="583.27" y1="428.4" x2="583.27" y2="448.1" stroke="#d6d6d6" stroke-width="0.6"/>
<line x1="602.26" y1="428.4" x2="602.26" y2="448.1" stroke="#d6d6d6" stroke-width="0.6"/>
<line x1="621.25" y1="428.4" x2="621.25" y2="448.1" stroke="#d6d6d6" stroke-width="0.6"/>
<line x1="640.24" y1="428.4" x2="640.24" y2="448.1" stroke="#d6d6d6" stroke-width="0.6"/>
<line x1="659.23" y1="428.4" x2="659.23" y2="448.1" stroke="#d6d6d6" stroke-width="0.6"/>
<line x1="678.22" y1="428.4" x2="678.22" y2="448.1" stroke="#d6d6d6" stroke-width="0.6"/>
<line x1="697.21" y1="428.4" x2="697.21" y2="448.1" stroke="#d6d6d6" stroke-width="0.6"/>
<line x1="716.20" y1="428.4" x2="716.20" y2="448.1" stroke="#d6d6d6" stroke-width="0.6"/>
<polyline points="345.89,395.76 364.88,403.92 383.88,412.08 402.87,417.52 421.86,428.40 440.84,428.40 459.83,428.40 478.82,428.40 497.81,428.40 516.81,428.40 535.79,428.40 554.78,428.40 573.77,428.40 592.76,428.40 611.75,428.40 630.75,428.40 649.74,428.40 668.73,428.40 687.72,428.40 706.71,428.40" fill="none" stroke="#ee9a6c" stroke-width="0.9" stroke-linejoin="round"/>
<rect x="262.0" y="436.9" width="8.8" height="2.6" fill="#6f87c9"/>
<line x1="262.0" y1="445.0" x2="270.8" y2="445.0" stroke="#ee9a6c" stroke-width="0.8"/>
<text x="272.0" y="439.8" font-size="4.56" fill="#666">Score before Control Measures</text>
<text x="272.0" y="446.6" font-size="4.56" fill="#666">Score After Control Measures</text>
<text x="345.89" y="433.3" font-size="4.5" fill="#666" text-anchor="middle">1</text>
<text x="345.89" y="439.8" font-size="4.5" fill="#666" text-anchor="middle">25</text>
<text x="345.89" y="446.6" font-size="4.5" fill="#666" text-anchor="middle">12</text>
<text x="364.88" y="433.3" font-size="4.5" fill="#666" text-anchor="middle">2</text>
<text x="364.88" y="439.8" font-size="4.5" fill="#666" text-anchor="middle">12</text>
<text x="364.88" y="446.6" font-size="4.5" fill="#666" text-anchor="middle">9</text>
<text x="383.88" y="433.3" font-size="4.5" fill="#666" text-anchor="middle">3</text>
<text x="383.88" y="439.8" font-size="4.5" fill="#666" text-anchor="middle">20</text>
<text x="383.88" y="446.6" font-size="4.5" fill="#666" text-anchor="middle">6</text>
<text x="402.87" y="433.3" font-size="4.5" fill="#666" text-anchor="middle">4</text>
<text x="402.87" y="439.8" font-size="4.5" fill="#666" text-anchor="middle">25</text>
<text x="402.87" y="446.6" font-size="4.5" fill="#666" text-anchor="middle">4</text>
<text x="421.86" y="433.3" font-size="4.5" fill="#666" text-anchor="middle">5</text>
<text x="421.86" y="439.8" font-size="4.5" fill="#666" text-anchor="middle">0</text>
<text x="421.86" y="446.6" font-size="4.5" fill="#666" text-anchor="middle">0</text>
<text x="440.84" y="433.3" font-size="4.5" fill="#666" text-anchor="middle">6</text>
<text x="440.84" y="439.8" font-size="4.5" fill="#666" text-anchor="middle">0</text>
<text x="440.84" y="446.6" font-size="4.5" fill="#666" text-anchor="middle">0</text>
<text x="459.83" y="433.3" font-size="4.5" fill="#666" text-anchor="middle">7</text>
<text x="459.83" y="439.8" font-size="4.5" fill="#666" text-anchor="middle">0</text>
<text x="459.83" y="446.6" font-size="4.5" fill="#666" text-anchor="middle">0</text>
<text x="478.82" y="433.3" font-size="4.5" fill="#666" text-anchor="middle">8</text>
<text x="478.82" y="439.8" font-size="4.5" fill="#666" text-anchor="middle">0</text>
<text x="478.82" y="446.6" font-size="4.5" fill="#666" text-anchor="middle">0</text>
<text x="497.81" y="433.3" font-size="4.5" fill="#666" text-anchor="middle">9</text>
<text x="497.81" y="439.8" font-size="4.5" fill="#666" text-anchor="middle">0</text>
<text x="497.81" y="446.6" font-size="4.5" fill="#666" text-anchor="middle">0</text>
<text x="516.81" y="433.3" font-size="4.5" fill="#666" text-anchor="middle">10</text>
<text x="516.81" y="439.8" font-size="4.5" fill="#666" text-anchor="middle">0</text>
<text x="516.81" y="446.6" font-size="4.5" fill="#666" text-anchor="middle">0</text>
<text x="535.79" y="433.3" font-size="4.5" fill="#666" text-anchor="middle">11</text>
<text x="535.79" y="439.8" font-size="4.5" fill="#666" text-anchor="middle">0</text>
<text x="535.79" y="446.6" font-size="4.5" fill="#666" text-anchor="middle">0</text>
<text x="554.78" y="433.3" font-size="4.5" fill="#666" text-anchor="middle">12</text>
<text x="554.78" y="439.8" font-size="4.5" fill="#666" text-anchor="middle">0</text>
<text x="554.78" y="446.6" font-size="4.5" fill="#666" text-anchor="middle">0</text>
<text x="573.77" y="433.3" font-size="4.5" fill="#666" text-anchor="middle">13</text>
<text x="573.77" y="439.8" font-size="4.5" fill="#666" text-anchor="middle">0</text>
<text x="573.77" y="446.6" font-size="4.5" fill="#666" text-anchor="middle">0</text>
<text x="592.76" y="433.3" font-size="4.5" fill="#666" text-anchor="middle">14</text>
<text x="592.76" y="439.8" font-size="4.5" fill="#666" text-anchor="middle">0</text>
<text x="592.76" y="446.6" font-size="4.5" fill="#666" text-anchor="middle">0</text>
<text x="611.75" y="433.3" font-size="4.5" fill="#666" text-anchor="middle">15</text>
<text x="611.75" y="439.8" font-size="4.5" fill="#666" text-anchor="middle">0</text>
<text x="611.75" y="446.6" font-size="4.5" fill="#666" text-anchor="middle">0</text>
<text x="630.75" y="433.3" font-size="4.5" fill="#666" text-anchor="middle">16</text>
<text x="630.75" y="439.8" font-size="4.5" fill="#666" text-anchor="middle">0</text>
<text x="630.75" y="446.6" font-size="4.5" fill="#666" text-anchor="middle">0</text>
<text x="649.74" y="433.3" font-size="4.5" fill="#666" text-anchor="middle">17</text>
<text x="649.74" y="439.8" font-size="4.5" fill="#666" text-anchor="middle">0</text>
<text x="649.74" y="446.6" font-size="4.5" fill="#666" text-anchor="middle">0</text>
<text x="668.73" y="433.3" font-size="4.5" fill="#666" text-anchor="middle">18</text>
<text x="668.73" y="439.8" font-size="4.5" fill="#666" text-anchor="middle">0</text>
<text x="668.73" y="446.6" font-size="4.5" fill="#666" text-anchor="middle">0</text>
<text x="687.72" y="433.3" font-size="4.5" fill="#666" text-anchor="middle">19</text>
<text x="687.72" y="439.8" font-size="4.5" fill="#666" text-anchor="middle">0</text>
<text x="687.72" y="446.6" font-size="4.5" fill="#666" text-anchor="middle">0</text>
<text x="706.71" y="433.3" font-size="4.5" fill="#666" text-anchor="middle">20</text>
<text x="706.71" y="439.8" font-size="4.5" fill="#666" text-anchor="middle">0</text>
<text x="706.71" y="446.6" font-size="4.5" fill="#666" text-anchor="middle">0</text>
</g>
</svg>
</body></html>
